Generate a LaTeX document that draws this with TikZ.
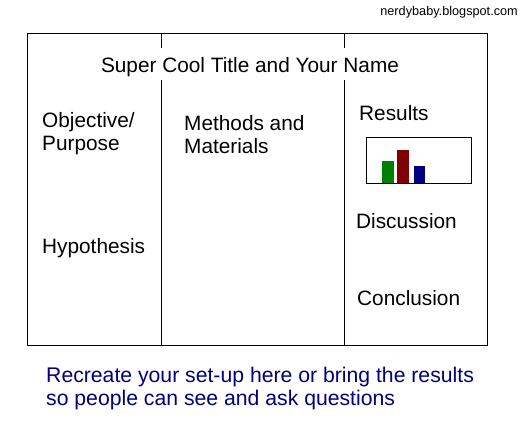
\documentclass[tikz,border=0pt]{standalone}
\usepackage{fontspec}
\setmainfont{Liberation Sans}
\usetikzlibrary{positioning}
\definecolor{bargreen}{RGB}{0,128,0}
\definecolor{barred}{RGB}{128,0,0}
\definecolor{barblue}{RGB}{0,0,128}
\definecolor{notenavy}{RGB}{0,0,120}

\begin{document}
\begin{tikzpicture}[x=1pt,y=-1pt]
\tikzstyle{every node}+=[inner sep=0pt, anchor=base west]
\tikzstyle{boardtext}=[font=\fontsize{20.8}{23}\selectfont, align=left]
\tikzstyle{boardline}=[black, line width=0.85pt]
\useasboundingbox [fill=white] (0,0) rectangle (525,432);
\node [font=\fontsize{12.7}{14}\selectfont, anchor=base east] (blog) at (518,15) {nerdybaby.blogspot.com};
\draw [boardline] (27,33) rectangle (487,345);
\draw [boardline] (161,33) -- (161,48) (161,80) -- (161,345);
\draw [boardline] (344,33) -- (344,48) (344,80) -- (344,345);
% multi-line nodes sit on the baseline of their last line
\node [boardtext, anchor=base] (title) at (250,72) {Super Cool Title and Your Name};
\node [boardtext] (objective) at (42,150) {Objective/\\Purpose};
\node [boardtext] (hypothesis) at (42,253) {Hypothesis};
\node [boardtext] (methods) at (184,153) {Methods and\\Materials};
\node [boardtext] (results) at (359,120) {Results};
\node [boardtext] (discussion) at (356,228) {Discussion};
\node [boardtext] (conclusion) at (357,305) {Conclusion};
\draw [boardline] (366,137) rectangle (471,183);
\fill [bargreen] (382,161) rectangle (394,183);
\fill [barred] (397,150) rectangle (409,183);
\fill [barblue] (414,166) rectangle (425,183);
\node [boardtext, font=\fontsize{21.2}{23}\selectfont, text=notenavy] (note) at (46,405) {Recreate your set-up here or bring the results\\so people can see and ask questions};
\end{tikzpicture}
\end{document}
